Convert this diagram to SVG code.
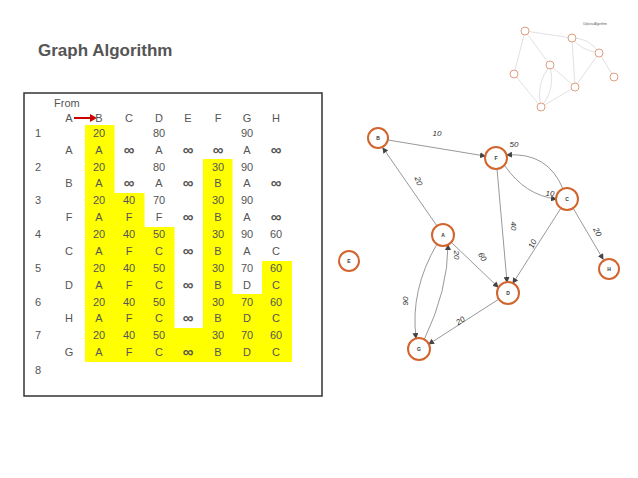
<svg xmlns="http://www.w3.org/2000/svg" width="638" height="478" viewBox="0 0 638 478">
<style>
text{font-family:"Liberation Sans",Arial,sans-serif;fill:#555}
.t{font-size:11px;text-anchor:middle}
.i{font-size:15px;font-weight:bold}
.n circle{fill:#fff;stroke:#d2652e;stroke-width:2}
.n text{font-size:5px;font-weight:bold;fill:#333;text-anchor:middle}
.e{fill:none;stroke:#999;stroke-width:1;marker-end:url(#ah)}
.l{font-size:8px;font-style:italic;fill:#333;text-anchor:middle}
.s circle{fill:#fff;stroke:#e0a080;stroke-width:1}
.s line,.s path{stroke:#ccc;stroke-width:.6;fill:none}
</style>
<defs><marker id="ah" markerWidth="6" markerHeight="6" refX="5" refY="3" orient="auto"><path d="M0,0L6,3L0,6z" fill="#444"/></marker></defs>
<rect width="638" height="478" fill="#fff"/>
<text x="38" y="56" style="font-size:17px;font-weight:bold">Graph Algorithm</text>
<g id="table">
<rect x="24" y="93" width="298" height="303" fill="#fff" stroke="#333" stroke-width="1.5"/>
<g fill="#ffff00">
<rect x="85" y="125" width="29.5" height="237"/><rect x="114" y="193" width="30.5" height="169"/>
<rect x="144" y="227" width="30.5" height="135"/><rect x="174" y="328" width="30" height="34"/>
<rect x="203" y="159" width="29.5" height="203"/><rect x="232" y="294" width="30.5" height="68"/>
<rect x="262" y="261" width="30" height="101"/></g>
<path d="M74,118H92" stroke="#c00" stroke-width="2"/><path d="M90,114L97,118L90,122z" fill="#c00"/>
<text x="54" y="107" style="font-size:11px">From</text>
<g class="t">
<text x="69" y="122">A</text><text x="99" y="122">B</text><text x="129" y="122">C</text><text x="159" y="122">D</text><text x="188" y="122">E</text><text x="218" y="122">F</text><text x="247" y="122">G</text><text x="276" y="122">H</text>
<text x="38" y="137">1</text><text x="38" y="171">2</text><text x="38" y="204">3</text><text x="38" y="238">4</text><text x="38" y="272">5</text><text x="38" y="306">6</text><text x="38" y="339">7</text><text x="38" y="374">8</text>
<text x="69" y="154">A</text><text x="69" y="187">B</text><text x="69" y="221">F</text><text x="69" y="255">C</text><text x="69" y="289">D</text><text x="69" y="322">H</text><text x="69" y="356">G</text>
<text x="99" y="137">20</text><text x="159" y="137">80</text><text x="247" y="137">90</text>
<text x="99" y="154">A</text><text class="i" x="129" y="155">∞</text><text x="159" y="154">A</text><text class="i" x="188" y="155">∞</text><text class="i" x="218" y="155">∞</text><text x="247" y="154">A</text><text class="i" x="276" y="155">∞</text>
<text x="99" y="171">20</text><text x="159" y="171">80</text><text x="218" y="171">30</text><text x="247" y="171">90</text>
<text x="99" y="187">A</text><text class="i" x="129" y="188">∞</text><text x="159" y="187">A</text><text class="i" x="188" y="188">∞</text><text x="218" y="187">B</text><text x="247" y="187">A</text><text class="i" x="276" y="188">∞</text>
<text x="99" y="204">20</text><text x="129" y="204">40</text><text x="159" y="204">70</text><text x="218" y="204">30</text><text x="247" y="204">90</text>
<text x="99" y="221">A</text><text x="129" y="221">F</text><text x="159" y="221">F</text><text class="i" x="188" y="222">∞</text><text x="218" y="221">B</text><text x="247" y="221">A</text><text class="i" x="276" y="222">∞</text>
<text x="99" y="238">20</text><text x="129" y="238">40</text><text x="159" y="238">50</text><text x="218" y="238">30</text><text x="247" y="238">90</text><text x="276" y="238">60</text>
<text x="99" y="255">A</text><text x="129" y="255">F</text><text x="159" y="255">C</text><text class="i" x="188" y="256">∞</text><text x="218" y="255">B</text><text x="247" y="255">A</text><text x="276" y="255">C</text>
<text x="99" y="272">20</text><text x="129" y="272">40</text><text x="159" y="272">50</text><text x="218" y="272">30</text><text x="247" y="272">70</text><text x="276" y="272">60</text>
<text x="99" y="289">A</text><text x="129" y="289">F</text><text x="159" y="289">C</text><text class="i" x="188" y="290">∞</text><text x="218" y="289">B</text><text x="247" y="289">D</text><text x="276" y="289">C</text>
<text x="99" y="306">20</text><text x="129" y="306">40</text><text x="159" y="306">50</text><text x="218" y="306">30</text><text x="247" y="306">70</text><text x="276" y="306">60</text>
<text x="99" y="322">A</text><text x="129" y="322">F</text><text x="159" y="322">C</text><text class="i" x="188" y="323">∞</text><text x="218" y="322">B</text><text x="247" y="322">D</text><text x="276" y="322">C</text>
<text x="99" y="339">20</text><text x="129" y="339">40</text><text x="159" y="339">50</text><text x="218" y="339">30</text><text x="247" y="339">70</text><text x="276" y="339">60</text>
<text x="99" y="356">A</text><text x="129" y="356">F</text><text x="159" y="356">C</text><text class="i" x="188" y="357">∞</text><text x="218" y="356">B</text><text x="247" y="356">D</text><text x="276" y="356">C</text>
</g>
</g>
<g id="thumb" class="s">
<line x1="525" y1="31" x2="572" y2="38"/><line x1="525" y1="31" x2="514" y2="74"/><line x1="525" y1="31" x2="550" y2="65"/>
<path d="M572,38Q590,38 599,53"/><path d="M572,38Q580,50 599,53"/><line x1="572" y1="38" x2="575" y2="87"/>
<line x1="599" y1="53" x2="575" y2="87"/><line x1="599" y1="53" x2="614" y2="77"/><line x1="550" y1="65" x2="575" y2="87"/>
<path d="M550,65Q535,85 541,107"/><path d="M541,107Q556,90 550,65"/><line x1="514" y1="74" x2="541" y2="107"/><line x1="575" y1="87" x2="541" y2="107"/>
<circle cx="525" cy="31" r="4"/><circle cx="572" cy="38" r="4"/><circle cx="599" cy="53" r="4"/><circle cx="550" cy="65" r="4"/>
<circle cx="514" cy="74" r="4"/><circle cx="614" cy="77" r="4"/><circle cx="575" cy="87" r="4"/><circle cx="541" cy="107" r="4"/>
<text x="595" y="25" style="font-size:3px;text-anchor:middle">Dijkstra Algorithm</text>
</g>
<g id="connectors">
<line class="e" x1="388" y1="140" x2="485" y2="156"/>
<path class="e" d="M505,166Q525,195 556,199"/>
<path class="e" d="M563,189Q548,152 507,155"/>
<line class="e" x1="497" y1="169" x2="507" y2="282"/>
<line class="e" x1="561" y1="208" x2="513" y2="283" marker-start="url(#ah)"/>
<line class="e" x1="573" y1="208" x2="603" y2="259"/>
<line class="e" x1="437" y1="226" x2="383" y2="148"/>
<line class="e" x1="451" y1="242" x2="498" y2="287"/>
<path class="e" d="M437,244Q410,290 416,338"/>
<path class="e" d="M424,340Q448,290 448,245"/>
<line class="e" x1="499" y1="299" x2="429" y2="344"/>
<text class="l" x="437" y="136">10</text><text class="l" x="514" y="147">50</text><text class="l" x="550" y="196">10</text>
<text class="l" transform="translate(416,182) rotate(70)">20</text>
<text class="l" transform="translate(511,226) rotate(90)">40</text>
<text class="l" transform="translate(535,245) rotate(-65)">10</text>
<text class="l" transform="translate(480,258) rotate(60)">60</text>
<text class="l" transform="translate(454,255) rotate(90)">20</text>
<text class="l" transform="translate(408,301) rotate(-90)">90</text>
<text class="l" transform="translate(462,323) rotate(-35)">20</text>
<text class="l" transform="translate(595,233) rotate(65)">20</text>
</g>
<g id="B" class="n"><circle cx="378" cy="138" r="10"/><text x="378" y="140">B</text></g>
<g id="F" class="n"><circle cx="496" cy="158" r="11"/><text x="496" y="160">F</text></g>
<g id="C" class="n"><circle cx="567" cy="199" r="11"/><text x="567" y="201">C</text></g>
<g id="A" class="n"><circle cx="443" cy="235" r="11"/><text x="443" y="237">A</text></g>
<g id="E" class="n"><circle cx="349" cy="261" r="10"/><text x="349" y="263">E</text></g>
<g id="H" class="n"><circle cx="609" cy="269" r="10"/><text x="609" y="271">H</text></g>
<g id="D" class="n"><circle cx="508" cy="293" r="11"/><text x="508" y="295">D</text></g>
<g id="G" class="n"><circle cx="419" cy="349" r="11"/><text x="419" y="351">G</text></g>
</svg>
